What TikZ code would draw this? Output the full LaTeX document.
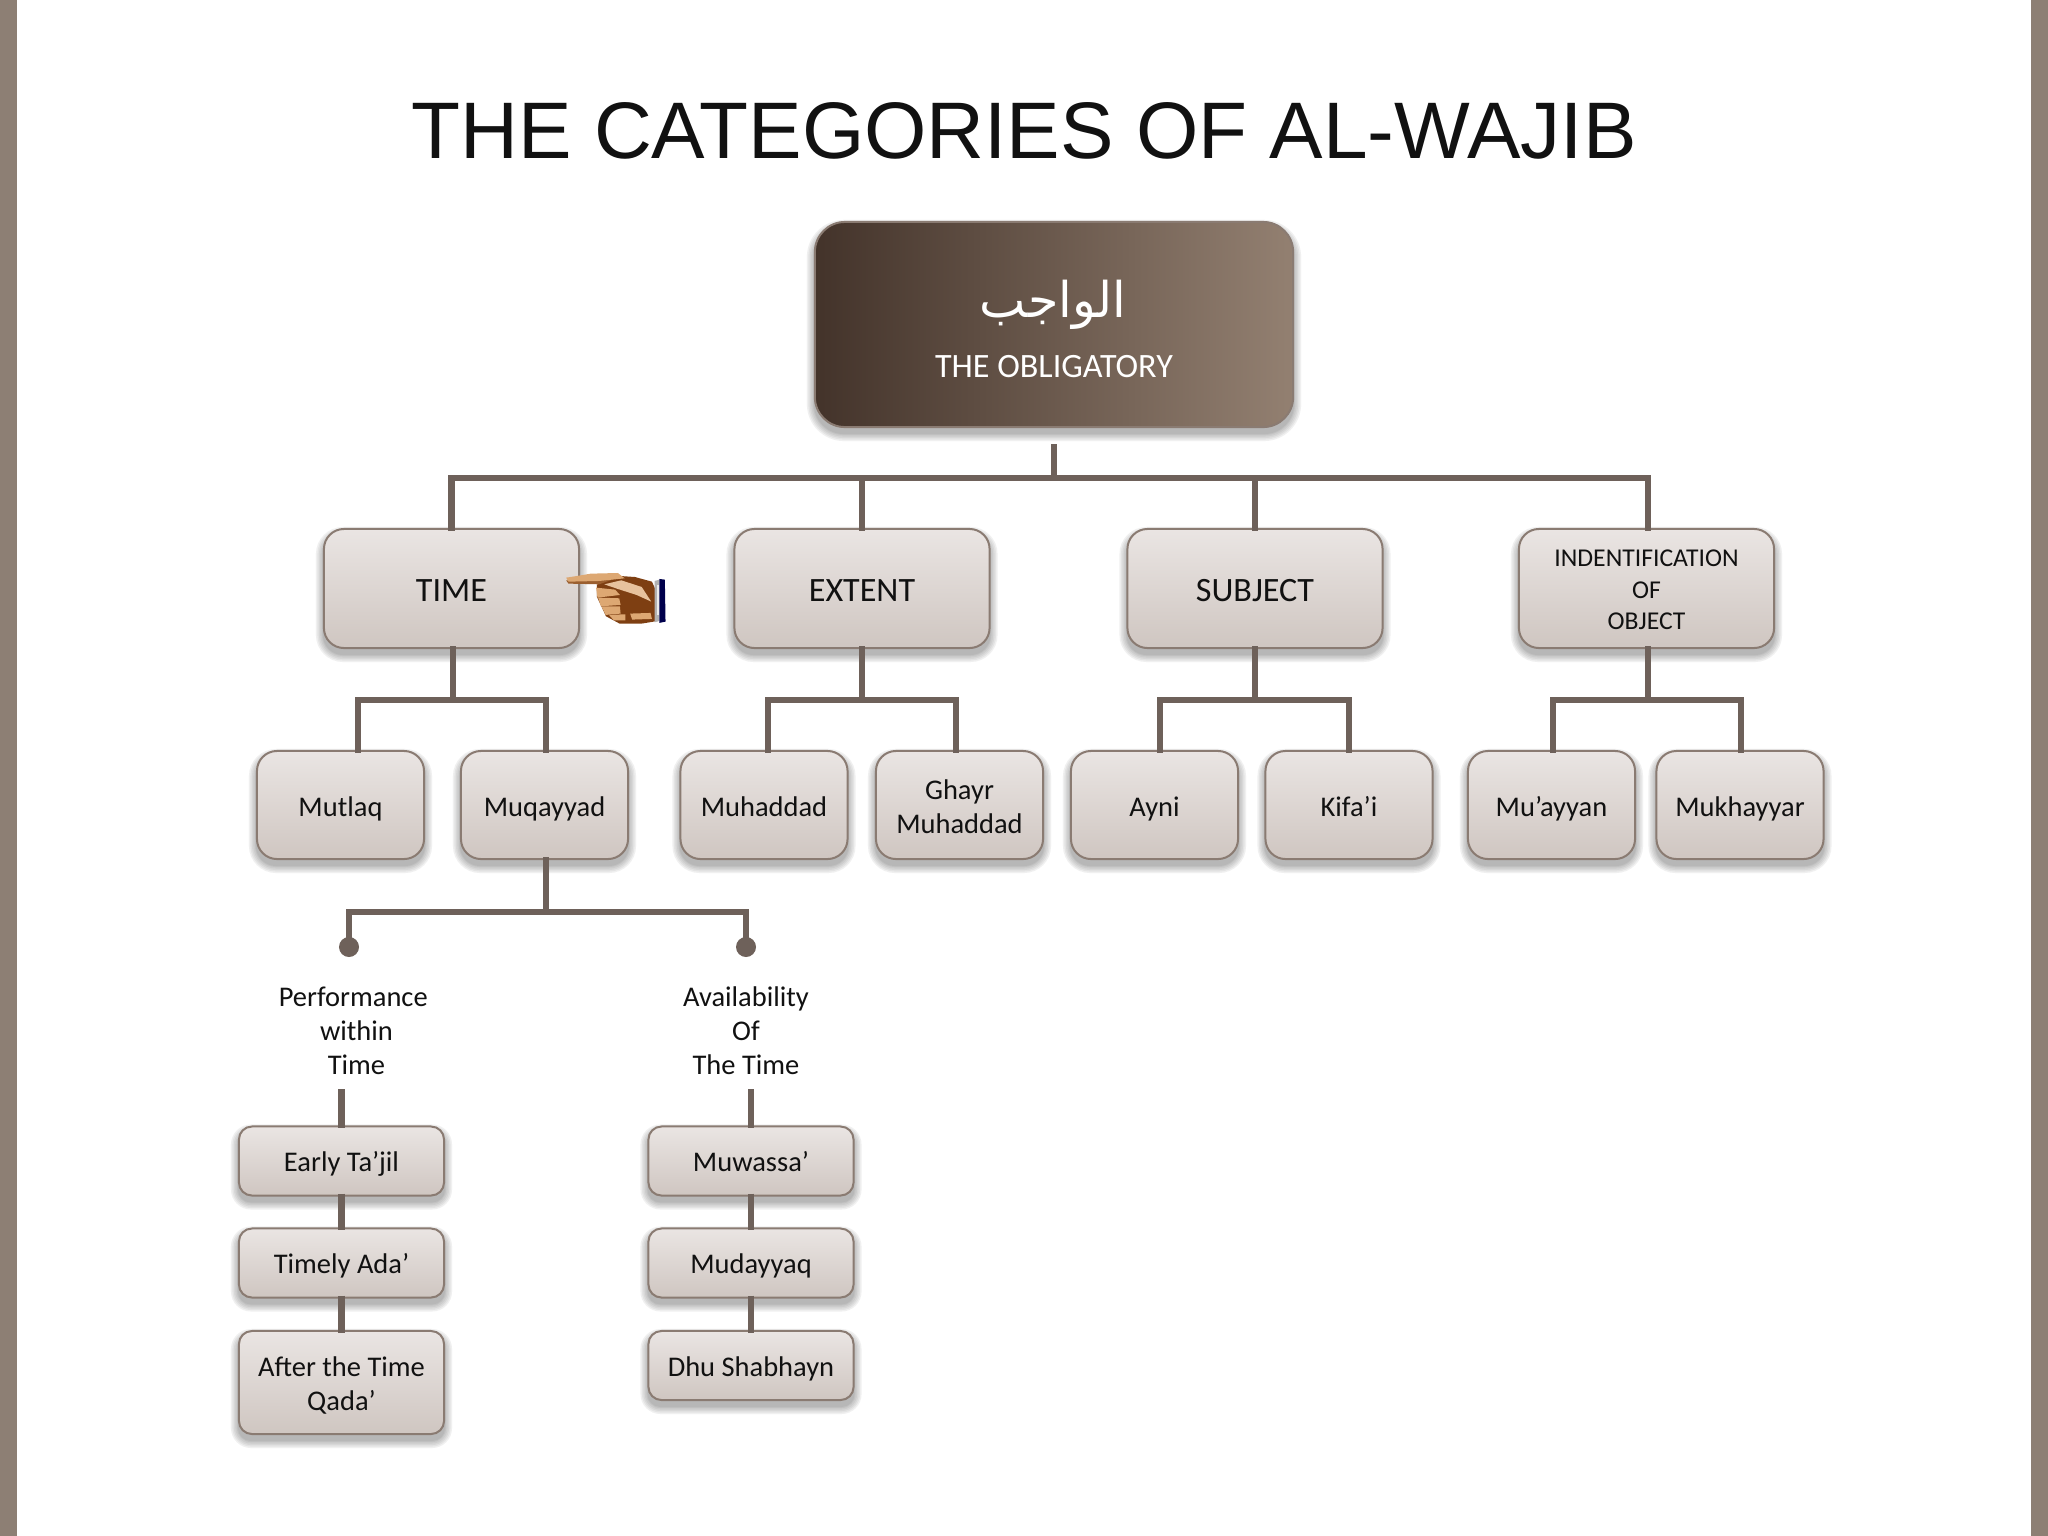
\documentclass[tikz,border=0pt]{standalone}
\usepackage{fontspec}
\setmainfont{Carlito}
\newfontfamily\titlefont{Liberation Sans}
\newfontfamily\arabicfont[Script=Arabic]{DejaVu Sans}
\TeXXeTstate=1
\usetikzlibrary{calc}
\pgfdeclarelayer{shadowlayer}
\pgfsetlayers{shadowlayer,main}
\definecolor{band}{HTML}{8D7F74}
\definecolor{edgec}{HTML}{8A7B72}
\definecolor{connc}{HTML}{6E615A}
\definecolor{boxtop}{HTML}{EAE5E3}
\definecolor{boxbot}{HTML}{CFC6C1}
\definecolor{rootl}{HTML}{43332A}
\definecolor{rootr}{HTML}{938071}
\definecolor{textc}{HTML}{111111}
\definecolor{handb}{HTML}{7E3F12}
\definecolor{handt}{HTML}{DDA873}
\tikzset{
  x=0.01cm,y=-0.01cm,
  softlayer/.style={fill=black!70,fill opacity=0.08},
  basebox/.style={draw=edgec,line width=0.02cm,top color=boxtop,bottom color=boxbot,text=textc,align=center,inner sep=0pt},
  rowone/.style={basebox,rounded corners=0.2cm,minimum width=2.55cm,minimum height=1.19cm,font=\fontsize{9.7}{11.6}\selectfont},
  rowtwo/.style={basebox,rounded corners=0.2cm,minimum width=1.67cm,minimum height=1.08cm,font=\fontsize{8.1}{9.7}\selectfont},
  rowthree/.style={basebox,rounded corners=0.13cm,minimum width=2.05cm,minimum height=0.69cm,font=\fontsize{8.1}{9.7}\selectfont},
  oneline/.style={text height=8.5pt,text depth=2pt},
  onelinesmall/.style={text height=8.1pt,text depth=2.1pt},
  onelinebig/.style={text height=9.7pt,text depth=2.2pt},
  plainlabel/.style={text=textc,align=center,inner sep=0pt,font=\fontsize{8.1}{9.7}\selectfont},
  conn/.style={draw=connc,line width=0.065cm,miter limit=10},
  bite/.style={conn,shorten <=-0.03cm,shorten >=-0.03cm},
  enddot/.style={circle,fill=connc,inner sep=0pt,minimum size=0.2cm},
}
\begin{document}
\begin{tikzpicture}
\useasboundingbox (0,0) rectangle (2048,1536);
\begin{pgfonlayer}{shadowlayer}
\fill[white] (0,0) rectangle (2048,1536);
\fill[band] (0,0) rectangle (17,1536);
\fill[band] (2031,0) rectangle (2048,1536);
\end{pgfonlayer}

\node[text=textc,inner sep=0pt,font=\titlefont\fontsize{22.8}{27}\selectfont] (title) at (1024,131) {THE CATEGORIES OF AL-WAJIB};

% root
\node[draw=edgec,line width=0.02cm,left color=rootl,right color=rootr,rounded corners=0.3cm,minimum width=4.78cm,minimum height=2.05cm] (root) at (1054,324.5) {};
\node[text=white,inner sep=0pt,font=\arabicfont\fontsize{14}{18}\selectfont] (rootar) at (1053,305) {\beginR الواجب\endR};
\node[text=white,inner sep=0pt,font=\fontsize{9.7}{11.6}\selectfont] (rooten) at (1054,367) {THE OBLIGATORY};

% first row
\node[rowone,onelinebig] (time) at (451.5,588.5) {TIME};
\node[rowone,onelinebig] (extent) at (862,588.5) {EXTENT};
\node[rowone,onelinebig] (subject) at (1255,588.5) {SUBJECT};
\node[rowone,font=\fontsize{7.3}{8.9}\selectfont] (ident) at (1646.5,588.5) {\rule{0pt}{5.6pt}INDENTIFICATION\\OF\\OBJECT};

% second row
\node[rowtwo,oneline] (mutlaq) at (340.5,805) {Mutlaq};
\node[rowtwo,oneline] (muqayyad) at (544.5,805) {Muqayyad};
\node[rowtwo,oneline] (muhaddad) at (764,805) {Muhaddad};
\node[rowtwo] (ghayr) at (959.5,805) {\rule{0pt}{6.6pt}Ghayr\\Muhaddad};
\node[rowtwo,oneline] (ayni) at (1154.5,805) {Ayni};
\node[rowtwo,oneline] (kifai) at (1349,805) {Kifa’i};
\node[rowtwo,oneline] (muayyan) at (1551.5,805) {Mu’ayyan};
\node[rowtwo,oneline] (mukhayyar) at (1740,805) {Mukhayyar};

% third level
\node[rowthree,onelinesmall] (early) at (341.5,1161) {Early Ta’jil};
\node[rowthree,onelinesmall] (timely) at (341.5,1263) {Timely Ada’};
\node[rowthree,minimum height=1.03cm] (after) at (341.5,1382.5) {\rule{0pt}{7.3pt}After the Time\\Qada’};
\node[rowthree,onelinesmall] (muwassa) at (751,1161) {Muwassa’};
\node[rowthree,onelinesmall] (mudayyaq) at (751,1263) {Mudayyaq};
\node[rowthree,onelinesmall] (dhu) at (751,1365.5) {Dhu Shabhayn};

\node[plainlabel] (perf) at (356.5,1031) {Performance\rule{1.85pt}{0pt}\\within\\Time};
\node[plainlabel] (avail) at (746,1031) {Availability\\Of\\The Time};

% soft shadows under the boxes
\begin{pgfonlayer}{shadowlayer}
\foreach \n/\r in {root/0.3,time/0.2,extent/0.2,subject/0.2,ident/0.2,mutlaq/0.2,muqayyad/0.2,muhaddad/0.2,ghayr/0.2,ayni/0.2,kifai/0.2,muayyan/0.2,mukhayyar/0.2,early/0.13,timely/0.13,after/0.13,muwassa/0.13,mudayyaq/0.13,dhu/0.13}{
  \foreach \e in {0.07,0.055,0.04,0.025,0.01,0}{
    \fill[softlayer,rounded corners={\r cm+\e cm}] ([shift={(-\e cm,-0.06cm-\e cm)}]\n.south west) rectangle ([shift={(\e cm,-0.06cm+\e cm)}]\n.north east);
  }
}
\end{pgfonlayer}

% connectors
\coordinate (rootstem) at (1054,444);
\coordinate (busa) at (451.5,478);
\coordinate (busb) at (1648,478);
\draw[conn] (rootstem) -- (rootstem |- busa);
\draw[conn] ([xshift=-0.0325cm]busa) -- ([xshift=0.0325cm]busb);
\draw[conn,shorten <=-0.03cm] (time.north) -- (time.north |- busa);
\draw[conn,shorten <=-0.03cm] (extent.north) -- (extent.north |- busa);
\draw[conn,shorten <=-0.03cm] (subject.north) -- (subject.north |- busa);
\draw[conn,shorten <=-0.03cm] (busb |- ident.north) -- (busb);

\coordinate (ta) at (358,700); \coordinate (tb) at (546,700); \coordinate (tc) at (453,700);
\draw[bite] (tc |- time.south) -- (tc);
\draw[bite] (ta |- mutlaq.north) -- (ta) -- (tb) -- (tb |- muqayyad.north);

\coordinate (ea) at (768,700); \coordinate (eb) at (956,700);
\draw[bite] (extent.south) -- (extent.south |- ea);
\draw[bite] (ea |- muhaddad.north) -- (ea) -- (eb) -- (eb |- ghayr.north);

\coordinate (sa) at (1160,700); \coordinate (sb) at (1349,700);
\draw[bite] (subject.south) -- (subject.south |- sa);
\draw[bite] (sa |- ayni.north) -- (sa) -- (sb) -- (sb |- kifai.north);

\coordinate (ia) at (1553,700); \coordinate (ib) at (1741,700); \coordinate (ic) at (1648,700);
\draw[bite] (ic |- ident.south) -- (ic);
\draw[bite] (ia |- muayyan.north) -- (ia) -- (ib) -- (ib |- mukhayyar.north);

\node[enddot] (dotl) at (349,947) {};
\node[enddot] (dotr) at (746,947) {};
\coordinate (qa) at (349,912); \coordinate (qb) at (746,912); \coordinate (qc) at (546,912);
\draw[bite] (qc |- muqayyad.south) -- (qc);
\draw[conn] (dotl.center) -- (qa) -- (qb) -- (dotr.center);

\coordinate (perfstem) at (341.5,1089);
\coordinate (availstem) at (751,1089);
\draw[conn,shorten >=-0.03cm] (perfstem) -- (early.north);
\draw[bite] (early.south) -- (timely.north);
\draw[bite] (timely.south) -- (after.north);
\draw[conn,shorten >=-0.03cm] (availstem) -- (muwassa.north);
\draw[bite] (muwassa.south) -- (mudayyaq.north);
\draw[bite] (mudayyaq.south) -- (dhu.north);

% pointing hand (pixel picture)
\begin{scope}[shift={(560,565)},x=0.0034cm,y=-0.00333cm]
  \fill[handb] (108,60)--(130,42)--(160,32)--(220,36)--(270,50)--(288,90)--(288,168)--(240,176)--(175,176)--(135,154)--(122,125)--(108,95)--cycle;
  \fill[handb!70!handt] (18,46)--(115,46)--(165,40)--(115,58)--(25,56)--cycle;
  \fill[handt] (18,38)--(50,33)--(90,26)--(170,24)--(190,40)--(115,48)--(25,50)--cycle;
  \fill[handt!70!white] (130,58)--(180,46)--(240,66)--(268,110)--(225,90)--(170,72)--cycle;
  \fill[handt] (106,68)--(162,74)--(176,90)--(110,98)--cycle;
  \fill[handt] (112,98)--(174,100)--(178,120)--(120,124)--cycle;
  \fill[handt] (122,124)--(176,124)--(178,146)--(134,150)--cycle;
  \fill[handt] (144,150)--(192,148)--(192,166)--(158,166)--cycle;
  \fill[handt] (206,146)--(266,144)--(270,162)--(212,164)--cycle;
  \fill[gray!60] (278,48)--(292,44)--(292,168)--(278,172)--cycle;
  \fill[white!85!gray] (284,60) rectangle (292,150);
  \fill[blue!30!black] (292,42)--(308,44)--(310,170)--(292,174)--cycle;
\end{scope}
\end{tikzpicture}
\end{document}
